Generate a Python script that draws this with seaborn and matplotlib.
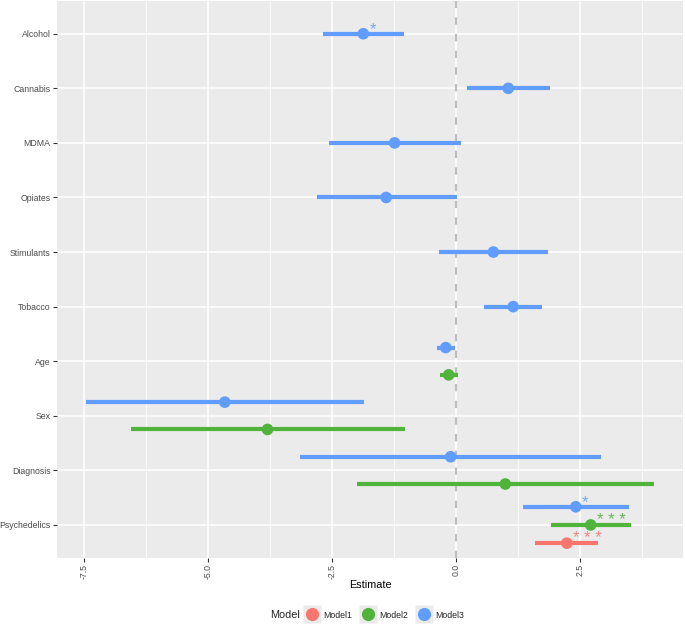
import numpy as np
import pandas as pd
import matplotlib
matplotlib.use("Agg")
import matplotlib.pyplot as plt
from matplotlib.lines import Line2D
from matplotlib.ticker import MultipleLocator
import seaborn as sns

# terms, top to bottom as shown
terms = ["Alcohol", "Cannabis", "MDMA", "Opiates", "Stimulants", "Tobacco",
         "Age", "Sex", "Diagnosis", "Psychedelics"]
models = ["Model1", "Model2", "Model3"]

# one row per estimate
row_term = ["Alcohol", "Cannabis", "MDMA", "Opiates", "Stimulants", "Tobacco",
            "Age", "Age", "Sex", "Sex", "Diagnosis", "Diagnosis",
            "Psychedelics", "Psychedelics", "Psychedelics"]
row_model = ["Model3", "Model3", "Model3", "Model3", "Model3", "Model3",
             "Model3", "Model2", "Model3", "Model2", "Model3", "Model2",
             "Model3", "Model2", "Model1"]
estimate = [-1.87, 1.05, -1.24, -1.41, 0.75, 1.15,
            -0.21, -0.15, -4.66, -3.80, -0.11, 0.99,
            2.41, 2.71, 2.23]
ci_low = [-2.68, 0.22, -2.57, -2.80, -0.35, 0.57,
          -0.38, -0.32, -7.45, -6.55, -3.15, -2.00,
          1.34, 1.91, 1.59]
ci_high = [-1.06, 1.89, 0.09, 0.01, 1.86, 1.73,
           -0.03, 0.04, -1.86, -1.03, 2.91, 3.99,
           3.48, 3.52, 2.86]
stars = ["*", "", "", "", "", "", "", "", "", "", "", "",
         "*", "***", "***"]

xticks = [-7.5, -5.0, -2.5, 0.0, 2.5]

palette = {"Model1": "#F8766D", "Model2": "#4FB33C", "Model3": "#619CFF"}

df = pd.DataFrame({"term": row_term, "model": row_model, "est": estimate,
                   "lo": ci_low, "hi": ci_high, "stars": stars})

# ggplot-like dodge: only among models present for a term
base = {t: len(terms) - i for i, t in enumerate(terms)}
df["ypos"] = 0.0
for t, g in df.groupby("term"):
    present = sorted(g["model"].unique())
    n = len(present)
    for idx in g.index:
        r = present.index(df.loc[idx, "model"])
        df.loc[idx, "ypos"] = base[t] + (r + 0.5) / n - 0.5

sns.set_style("darkgrid", {"axes.facecolor": "#EBEBEB", "grid.color": "white",
                           "axes.edgecolor": "#EBEBEB"})
plt.rcParams["font.family"] = ["Liberation Sans", "DejaVu Sans"]

fig = plt.figure(figsize=(6.85, 6.26), dpi=100)
ax = fig.add_axes([57 / 685, 68.3 / 626, 626 / 685, 556.7 / 626])

for _, r in df.iterrows():
    ax.hlines(r["ypos"], r["lo"], r["hi"], color=palette[r["model"]],
              lw=3.0, zorder=3)
sns.scatterplot(data=df, x="est", y="ypos", hue="model", palette=palette,
                s=70, edgecolor="none", legend=False, ax=ax, zorder=4)

for _, r in df[df["stars"] != ""].iterrows():
    ax.text(r["est"] + 0.13, r["ypos"] + 0.0, " ".join(r["stars"]),
            color=palette[r["model"]], alpha=0.85, fontsize=12,
            ha="left", va="baseline", zorder=5)

ax.axvline(0, color="#BDBDBD", lw=1.5, ls=(0, (3.5, 4.5)), zorder=2)

ax.set_xlim(-8.04, 4.57)
ax.set_ylim(0.4, len(terms) + 0.6)
ax.set_xticks(xticks)
ax.set_xticklabels([f"{v:.1f}" for v in xticks], rotation=90)
ax.xaxis.set_minor_locator(MultipleLocator(1.25))
ax.set_yticks([base[t] for t in terms])
ax.set_yticklabels(terms)
ax.grid(which="major", color="white", lw=1.1)
ax.grid(which="minor", axis="x", color="white", lw=0.55)
ax.tick_params(axis="both", which="major", length=3.0, width=0.8,
               color="#333333", labelsize=6.3, labelcolor="#4D4D4D", pad=1.5,
               bottom=True, left=True)
ax.tick_params(which="minor", length=0)
ax.set_xlabel("Estimate", fontsize=7.8, color="black", labelpad=1)
ax.set_ylabel("")
for s in ax.spines.values():
    s.set_visible(False)

# legend along the bottom, title on the left
fig.text(270 / 685, 1 - 615 / 626, "Model", fontsize=7.8, ha="left", va="center")
handles = []
for m in models:
    handles.append((Line2D([], [], marker="s", ls="", ms=13, mec="none",
                           mfc="#EBEBEB"),
                    Line2D([], [], marker="o", ls="", ms=9.5, mec="none",
                           mfc=palette[m])))
fig.legend(handles, models, loc="center left", ncol=3, frameon=False,
           bbox_to_anchor=(305 / 685, 1 - 615 / 626), fontsize=6.3,
           handlelength=1.5, handletextpad=0.6, columnspacing=1.0,
           borderpad=0, borderaxespad=0)

fig.savefig("out.png", dpi=100)
